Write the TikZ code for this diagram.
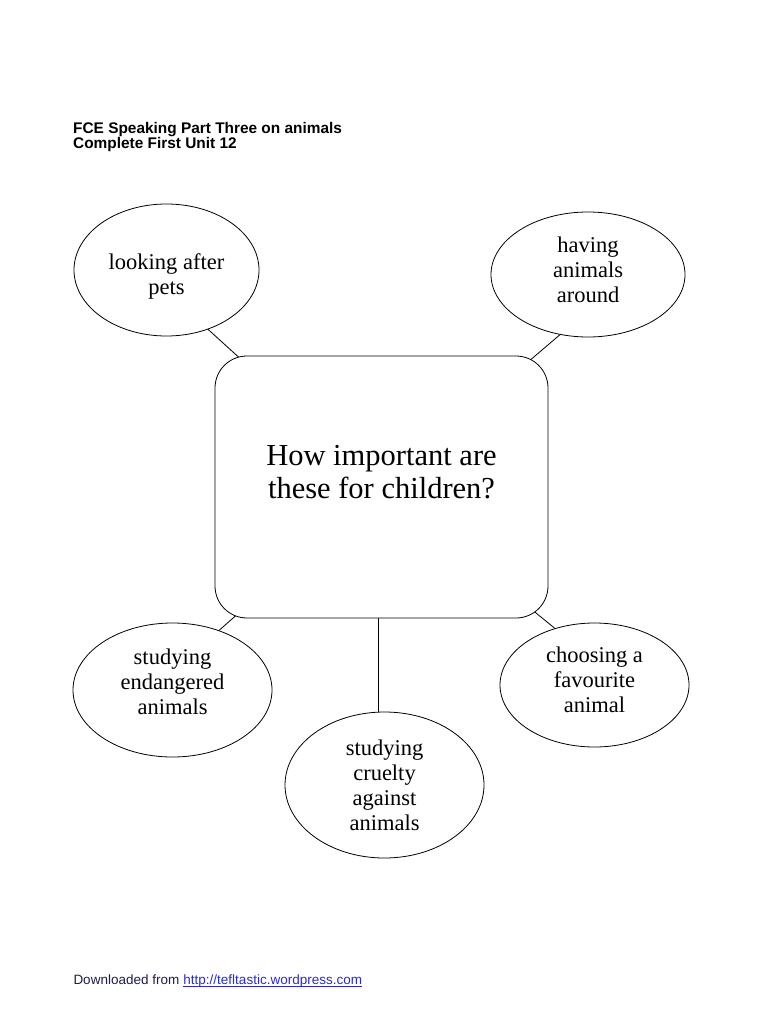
\documentclass[tikz,border=0pt]{standalone}
\usepackage{fontspec}
\setmainfont{Liberation Serif}
\newfontfamily\arialfont{Liberation Sans}
\usetikzlibrary{shapes.geometric}
\definecolor{navytext}{HTML}{1C1C4C}
\definecolor{linkblue}{HTML}{2A2AD0}
\begin{document}
\begin{tikzpicture}[x=1pt,y=-1pt,
  bubble/.style={draw, ellipse, line width=0.8pt, fill=white, inner sep=0pt},
  btext/.style={align=center, inner sep=0pt, font=\fontsize{22.5}{25}\selectfont},
  qbox/.style={draw, rectangle, rounded corners=32pt, line width=0.8pt, fill=white, inner sep=0pt},
  wire/.style={line width=0.8pt},
  headtext/.style={anchor=base west, inner sep=0pt, font=\arialfont\bfseries\fontsize{15.4}{16}\selectfont},
  foottext/.style={anchor=base west, inner sep=0pt, font=\arialfont\fontsize{13.5}{15}\selectfont}]
\useasboundingbox (0,0) rectangle (768,1024);

\node[headtext] (title1) at (73,133.5) {FCE Speaking Part Three on animals};
\node[headtext] (title2) at (73,149) {Complete First Unit 12};

\node[bubble, minimum width=185pt, minimum height=132pt] (e1) at (166.5,270) {};
\node[bubble, minimum width=194pt, minimum height=125pt] (e2) at (588,274.5) {};
\node[bubble, minimum width=199pt, minimum height=134pt] (e3) at (172.5,690) {};
\node[bubble, minimum width=199pt, minimum height=146pt] (e4) at (384.5,785) {};
\node[bubble, minimum width=189pt, minimum height=124pt] (e5) at (594.5,685) {};

\coordinate (boxc) at (381.5,487);
\draw[wire] (e1.-55) -- (boxc);
\draw[wire] (e2.-115) -- (boxc);
\draw[wire] (e3.52) -- (boxc);
\draw[wire] (e5.125) -- (boxc);
\draw[wire] (e4.95) -- (e4.95 |- boxc);

\node[qbox, minimum width=333pt, minimum height=262pt] (box) at (boxc) {};

\node[btext] (t1) at (166.5,276) {looking after\\pets};
\node[btext] (t2) at (588,270) {having\\animals\\around};
\node[btext] (t3) at (172.5,681.5) {studying\\endangered\\animals};
\node[btext] (t4) at (384.5,785) {studying\\cruelty\\against\\animals};
\node[btext] (t5) at (594.5,679.7) {choosing a\\favourite\\animal};
\node[align=center, inner sep=0pt, font=\fontsize{30.5}{33}\selectfont] (q) at (381.5,472) {How important are\\these for children?};

\node[foottext, text=navytext] (dl) at (73.3,984) {Downloaded from};
\node[foottext, text=linkblue] (link) at ([xshift=3.75pt]dl.base east) {http://tefltastic.wordpress.com};
\draw[linkblue, line width=0.8pt] ([yshift=-2pt]link.base west) -- ([yshift=-2pt]link.base east);
\end{tikzpicture}
\end{document}
